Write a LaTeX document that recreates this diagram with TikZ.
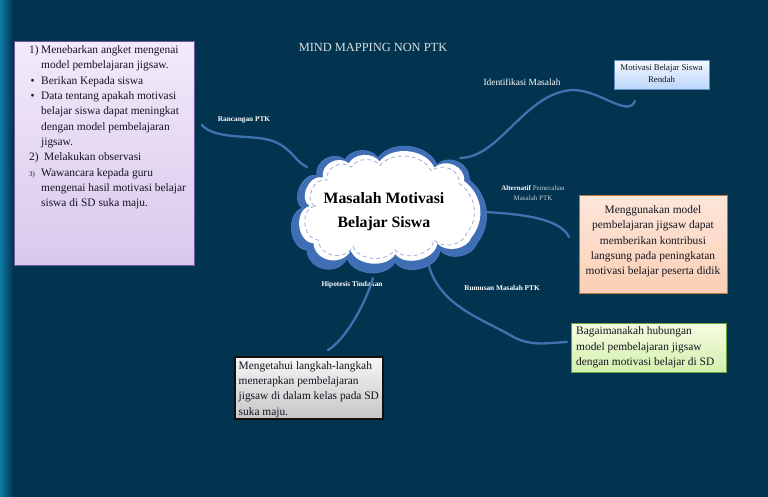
\documentclass[tikz,border=0pt]{standalone}
\usepackage{fontspec}
\setmainfont{Liberation Serif}
\usetikzlibrary{patterns}
\definecolor{slide}{HTML}{03344F}
\definecolor{strip}{HTML}{0B7BA6}
\definecolor{branchblue}{HTML}{3F72B0}
\definecolor{puffblue}{HTML}{4474BC}
\definecolor{puffdark}{HTML}{3763A6}
\definecolor{seam}{HTML}{A4ACDC}
\definecolor{inkdark}{HTML}{141420}
\def\BoxColors#1#2#3#4{%
  \definecolor{#1Top}{HTML}{#2}\definecolor{#1Line}{HTML}{#3}\definecolor{#1Low}{HTML}{#4}%
  \tikzset{#1 colors/.style={draw=#1Line, top color=#1Top, bottom color=#1Low}}%
}
\BoxColors{plan}{F2EAFA}{6A5C9E}{D9C8EC}
\BoxColors{goal}{F4F7FF}{5E8FC4}{B9D5FA}
\BoxColors{alt}{FDE6DA}{B67A3E}{FBCFB4}
\BoxColors{ask}{F6FCE0}{6FA044}{D3F0AE}
\BoxColors{hyp}{F6F6F6}{111111}{C6C6C6}
\def\CloudPath{(-83,0) to[bend left=85,looseness=1.1] (-69,-32) to[bend left=70,looseness=1.2] (-41,-48)
  to[bend left=60] (-8,-50) to[bend left=60] (51,-43) to[bend left=70,looseness=1.2] (83,-28)
  to[bend left=45] (91,35) to[bend left=60] (54,42) to[bend left=70] (9,54)
  to[bend left=65] (-39,50) to[bend left=75,looseness=1.3] (-79,42) to[bend left=80,looseness=1.1] cycle}
\tikzset{
  branch/.style={draw=branchblue, line width=2.3pt, line cap=round},
  branch label/.style={text=white, font=\fontsize{7.3}{9}\selectfont\bfseries, align=center, inner sep=0pt},
  note box/.style={rectangle, inner sep=0pt, line width=1pt},
  note text/.style={inner sep=0pt, text=inkdark, font=\fontsize{11.4}{15.3}\selectfont},
}
\begin{document}
\begin{tikzpicture}[x=1pt,y=-1pt]
\useasboundingbox (0,0) rectangle (768,497);
\fill[slide] (0,0) rectangle (768,497);
\shade[left color=strip, right color=slide] (0,0) rectangle (13,497);

% title
\node (title) [text=white!85!slide, font=\fontsize{12.4}{14}\selectfont, inner sep=0pt] at (373,47) {MIND MAPPING NON PTK};

% cloud
\begin{scope}[shift={(386,208)}]
  \fill[puffblue] \CloudPath;
  \path[pattern=north east lines, pattern color=puffdark] \CloudPath;
  \draw[puffblue, line width=1pt] \CloudPath;
  \begin{scope}[shift={(1,-2)}, xscale=.93, yscale=.89]
    \fill[white] \CloudPath;
  \end{scope}
  \begin{scope}[shift={(1,-2)}, xscale=.87, yscale=.81]
    \draw[seam, line width=.8pt, dash pattern=on 4pt off 3pt] \CloudPath;
  \end{scope}
\end{scope}
\node (cloudText) [align=center, inner sep=0pt, text=black, font=\fontsize{15.8}{24}\selectfont\bfseries] at (384,211.5) {Masalah Motivasi\\Belajar Siswa};

% boxes
\node (planBox) [note box, plan colors, minimum width=180pt, minimum height=223pt] at (104,153.5) {};
\node (goalBox) [note box, goal colors, minimum width=95pt, minimum height=29pt] at (661.5,75.5) {};
\node (altBox) [note box, alt colors, minimum width=148pt, minimum height=97pt] at (653,244.5) {};
\node (askBox) [note box, ask colors, minimum width=155pt, minimum height=49pt] at (648.5,347.5) {};
\node (hypBox) [note box, hyp colors, line width=1.6pt, minimum width=148pt, minimum height=62pt] at (309,388) {};

\node (planText) [note text, align=left, anchor=north west] at (29,45.5) {%
\makebox[12pt][l]{1)}Menebarkan angket mengenai\\
\hspace*{12pt}model pembelajaran jigsaw.\\
\makebox[12pt][l]{\hspace{1.5pt}\textbullet}Berikan Kepada siswa\\
\makebox[12pt][l]{\hspace{1.5pt}\textbullet}Data tentang apakah motivasi\\
\hspace*{12pt}belajar siswa dapat meningkat\\
\hspace*{12pt}dengan model pembelajaran\\
\hspace*{12pt}jigsaw.\\
\makebox[15pt][l]{2)}Melakukan observasi\\
\makebox[12pt][l]{\fontsize{7}{9}\selectfont 3)}Wawancara kepada guru\\
\hspace*{12pt}mengenai hasil motivasi belajar\\
\hspace*{12pt}siswa di SD suka maju.};
\node (goalText) [note text, align=center, font=\fontsize{8.8}{12.5}\selectfont] at (661.5,73.5) {Motivasi Belajar Siswa\\Rendah};
\node (altText) [note text, align=center] at (653,241.5) {Menggunakan model\\pembelajaran jigsaw dapat\\memberikan kontribusi\\langsung pada peningkatan\\motivasi belajar peserta didik};
\node (askText) [note text, align=left, anchor=west] at (576,347.5) {Bagaimanakah hubungan\\model pembelajaran jigsaw\\dengan motivasi belajar di SD};
\node (hypText) [note text, align=left, anchor=west] at (238.5,389.5) {Mengetahui langkah-langkah\\menerapkan pembelajaran\\jigsaw di dalam kelas pada SD\\suka maju.};

% labels
\node (planLabel) [branch label] at (244,120) {Rancangan PTK};
\node (goalLabel) [branch label, font=\fontsize{9.4}{11}\selectfont] at (522,82) {Identifikasi Masalah};
\node (altLabel) [branch label, font=\fontsize{7}{10.5}\selectfont] at (533,193) {\textbf{Alternatif} \textcolor{white!75!slide}{Pemecahan}\\\textcolor{white!75!slide}{Masalah PTK}};
\node (askLabel) [branch label] at (502,288) {Rumusan Masalah PTK};
\node (hypLabel) [branch label] at (352,285) {Hipotesis Tindakan};

% branch ends
\coordinate (planEnd) at (202,125);
\coordinate (planCloud) at (307,167);
\coordinate (goalCloud) at (460,158);
\coordinate (goalEnd) at (635,101);
\coordinate (altCloud) at (485,212);
\coordinate (altEnd) at (569,237);
\coordinate (askCloud) at (429,266);
\coordinate (askEnd) at (567,342);
\coordinate (hypCloud) at (373,278);
\coordinate (hypEnd) at (328,350);

\draw[branch] (planEnd) .. controls (212,137) and (240,136) .. (258,138) .. controls (290,141) and (292,160) .. (planCloud);
\draw[branch] (goalCloud) .. controls (500,158) and (525,92) .. (573,90) .. controls (600,90) and (628,118) .. (goalEnd);
\draw[branch] (altCloud) .. controls (520,214) and (560,218) .. (altEnd);
\draw[branch] (askCloud) .. controls (440,305) and (480,318) .. (510,335) .. controls (530,347) and (545,343) .. (askEnd);
\draw[branch] (hypCloud) .. controls (365,305) and (345,340) .. (hypEnd);
\end{tikzpicture}
\end{document}
